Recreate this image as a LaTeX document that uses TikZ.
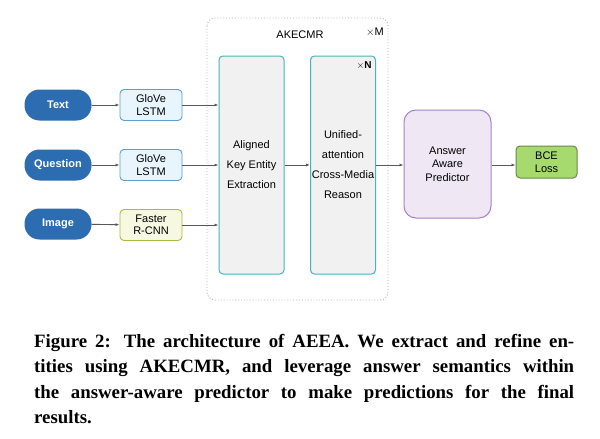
\documentclass[tikz,border=0pt]{standalone}
\usepackage{fontspec}
\setmainfont{Liberation Serif}
\newfontfamily\dsans{Liberation Sans}
\usetikzlibrary{arrows.meta}
\definecolor{pill}{HTML}{2C6CB0}
\definecolor{glfill}{HTML}{E8F5FD}
\definecolor{glbord}{HTML}{5C9FD6}
\definecolor{frfill}{HTML}{F6F8E2}
\definecolor{frbord}{HTML}{A9BC40}
\definecolor{tealb}{HTML}{45B4BB}
\definecolor{grayf}{HTML}{F1F1F1}
\definecolor{purf}{HTML}{F0E7F5}
\definecolor{purb}{HTML}{A680C9}
\definecolor{bcef}{HTML}{A6DA6F}
\definecolor{bceb}{HTML}{6B8A4A}
\begin{document}
\begin{tikzpicture}[x=1pt,y=-1pt,
  every node/.style={font=\dsans\fontsize{11}{13}\selectfont},
  inp/.style={rounded corners=15pt,fill=pill,text=white,font=\dsans\bfseries\fontsize{11}{13}\selectfont,minimum width=67pt,minimum height=31pt,inner sep=0pt},
  enc/.style={rounded corners=4pt,draw=glbord,fill=glfill,line width=0.9pt,minimum width=62pt,minimum height=31pt,inner sep=0pt,align=center,font=\dsans\fontsize{11}{12.5}\selectfont},
  big/.style={rounded corners=4pt,draw=tealb,fill=grayf,line width=1pt,minimum width=65pt,minimum height=218pt,inner sep=0pt,align=center,font=\dsans\fontsize{11}{20}\selectfont},
  arr/.style={draw=black!65,line width=0.9pt,-{Latex[length=4pt,width=3pt]}}]
\useasboundingbox (0,0) rectangle (600,439);
\fill[white] (0,0) rectangle (600,439);
\draw[black!30,dotted,line width=0.9pt,rounded corners=8pt,fill=white] (207,18) rectangle (388,300);
\node (title) at (300,35) {AKECMR};
\node (xm) at (375,32) {$\times$M};
\node[inp] (text) at (58,105) {Text};
\node[inp] (quest) at (58,165) {Question};
\node[inp] (img) at (58,224) {Image};
\node[enc] (g1) at (151,105) {GloVe\\LSTM};
\node[enc] (g2) at (151,165) {GloVe\\LSTM};
\node[enc,draw=frbord,fill=frfill] (fr) at (151,225) {Faster\\R-CNN};
\node[big] (ake) at (251.5,165) {Aligned\\Key Entity\\Extraction};
\node[big] (ucm) at (343,165) {Unified-\\attention\\Cross-Media\\Reason};
\node[font=\dsans\bfseries\fontsize{10}{11}\selectfont] (xn) at (364,65) {$\times$N};
\node[rounded corners=12pt,draw=purb,fill=purf,line width=1pt,minimum width=87pt,minimum height=108pt,align=center,inner sep=0pt,font=\dsans\fontsize{11}{13.5}\selectfont] (ans) at (447.5,164) {Answer\\Aware\\Predictor};
\node[rounded corners=4pt,draw=bceb,fill=bcef,line width=1pt,minimum width=61pt,minimum height=32pt,align=center,inner sep=0pt,font=\dsans\fontsize{11}{13}\selectfont] (bce) at (546.5,162) {BCE\\Loss};
\draw[arr] (text) -- (g1);
\draw[arr] (quest) -- (g2);
\draw[arr] (img) -- (fr);
\draw[arr] (g1.east) -- (g1.east -| ake.west);
\draw[arr] (g2.east) -- (g2.east -| ake.west);
\draw[arr] (fr.east) -- (fr.east -| ake.west);
\draw[arr] (ake.east |- 0,165) -- (ucm.west |- 0,165);
\draw[arr] (ucm.east |- 0,165) -- (ans.west |- 0,165);
\draw[arr] (ans.east |- 0,165) -- (bce.west |- 0,165);
\node[anchor=north west,inner sep=0pt,text width=540pt,align=justify,font=\bfseries\fontsize{18.8}{25.5}\selectfont] (cap) at (34,334) {Figure 2: The architecture of AEEA. We extract and refine en-\linebreak tities using AKECMR, and leverage answer semantics within\linebreak the answer-aware predictor to make predictions for the final\linebreak results.};
\end{tikzpicture}
\end{document}
